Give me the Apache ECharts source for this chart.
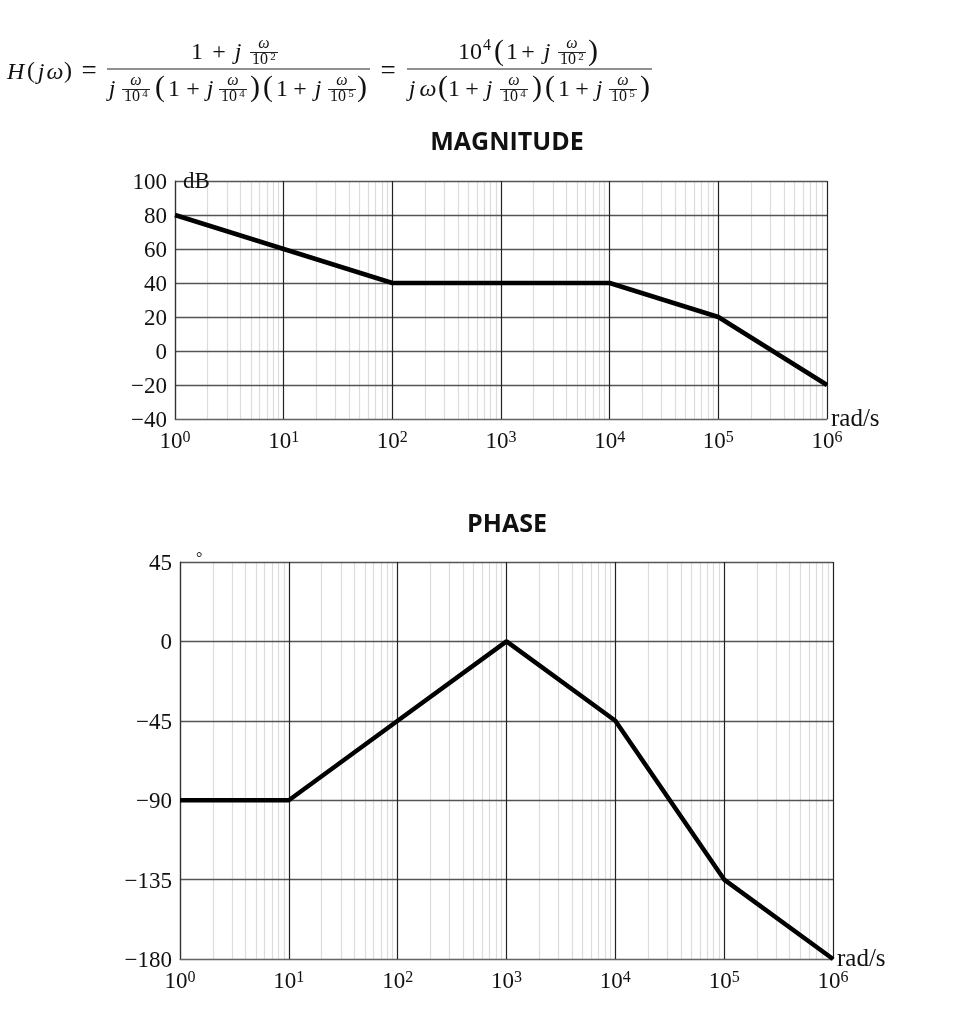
<!DOCTYPE html>
<html>
<head>
    <meta charset="utf-8">
    <script src="https://cdn.jsdelivr.net/npm/echarts@6/dist/echarts.min.js"></script>
    <style>body { margin: 0; background: #fff; }</style>
</head>
<body>
    <div id="main" style="width: 957px;height:1024px;"></div>
    <script type="text/javascript">

// values
var omega = [1, 10, 100, 1000, 10000, 100000, 1000000];
var magnitude = [80, 60, 40, 40, 40, 20, -20];
var phase = [-90, -90, -45, 0, -45, -135, -180];
var decades = [1, 10, 100, 1000, 10000, 100000];
var minorSteps = [2, 3, 4, 5, 6, 7, 8, 9];
var titles = ['MAGNITUDE', 'PHASE'];

var SERIF = '"Liberation Serif", serif';

function pairs(ys) {
    return omega.map(function (w, i) { return [w, ys[i]]; });
}

var minorLines = [];
decades.forEach(function (d) {
    minorSteps.forEach(function (m) {
        minorLines.push({ xAxis: d * m });
    });
});

function xAxisFor(gridIndex) {
    return {
        type: 'log',
        gridIndex: gridIndex,
        logBase: 10,
        min: 1,
        max: 1000000,
        z: 3,
        name: 'rad/s',
        nameLocation: 'end',
        nameGap: 4,
        nameMoveOverlap: false,
        nameTextStyle: { fontFamily: SERIF, fontSize: 25, color: '#111' },
        axisLine: { show: true, onZero: false, lineStyle: { color: '#666', width: 1.2 } },
        axisTick: { show: false },
        minorTick: { show: false },
        splitLine: { show: true, lineStyle: { color: '#222', width: 1.2 } },
        axisLabel: {
            show: true,
            margin: 11,
            showMinLabel: true,
            showMaxLabel: true,
            hideOverlap: false,
            formatter: function (v) {
                return '10{sup|' + Math.round(Math.log(v) / Math.LN10) + '}';
            },
            fontFamily: SERIF,
            fontSize: 23,
            color: '#111',
            rich: {
                sup: { fontFamily: SERIF, fontSize: 16, color: '#111', verticalAlign: 'top', lineHeight: 24 }
            }
        }
    };
}

function yAxisFor(gridIndex, min, max, interval, name, pad) {
    return {
        type: 'value',
        gridIndex: gridIndex,
        min: min,
        max: max,
        interval: interval,
        z: 3,
        name: name,
        nameLocation: 'end',
        nameGap: pad.gap,
        nameTextStyle: {
            fontFamily: SERIF, fontSize: pad.size, color: '#111',
            align: 'left', verticalAlign: 'middle', padding: [0, 0, 0, pad.left]
        },
        axisLine: { show: true, onZero: false, lineStyle: { color: '#333', width: 1.2 } },
        axisTick: { show: false },
        splitLine: { show: true, lineStyle: { color: '#555', width: 1.4 } },
        axisLabel: {
            margin: 8,
            color: '#111',
            formatter: function (v) { return '{n|' + String(v).replace('-', '\u2212') + '}'; },
            rich: {
                n: { fontFamily: SERIF, fontSize: 23, color: '#111', padding: [4, 0, 0, 0] }
            }
        }
    };
}

function curve(name, gridIndex, ys) {
    return [{
        name: name + ' minor',
        type: 'line',
        xAxisIndex: gridIndex,
        yAxisIndex: gridIndex,
        data: [],
        silent: true,
        z: 1,
        markLine: {
            silent: true,
            z: 1,
            symbol: 'none',
            animation: false,
            label: { show: false },
            lineStyle: { color: '#dcdcdc', width: 1.2, type: 'solid' },
            data: minorLines
        }
    }, {
        name: name,
        type: 'line',
        xAxisIndex: gridIndex,
        yAxisIndex: gridIndex,
        symbol: 'none',
        smooth: false,
        animation: false,
        z: 6,
        lineStyle: { color: '#000', width: 4.5 },
        data: pairs(ys)
    }];
}

// formula pieces, placed like the typeset original
var formula = [];
function txt(s, x, y, size, italic, align) {
    formula.push({
        type: 'text',
        x: x,
        y: y,
        style: {
            text: s,
            fontFamily: SERIF,
            fontSize: size,
            fontStyle: italic ? 'italic' : 'normal',
            fill: '#111',
            align: align || 'center',
            verticalAlign: 'middle'
        }
    });
}
function bar(x1, x2, y) {
    formula.push({
        type: 'line',
        shape: { x1: x1, y1: y, x2: x2, y2: y },
        style: { stroke: '#222', lineWidth: 1 }
    });
}
// small omega over power of ten
function frac(x, y, pow) {
    txt('\u03c9', x, y - 8, 16, true);
    bar(x - 14, x + 14, y + 0.5);
    txt('10', x - 4, y + 8, 16);
    txt(pow, x + 9, y + 5, 11);
}
function paren(s, x, y) {
    txt(s, x, y, 30);
}

txt('H', 7, 73, 24, true, 'left');
txt('(', 31, 72, 24);
txt('j', 41, 73, 24, true);
txt('\u03c9', 55, 73, 24, true);
txt(')', 68, 72, 24);
txt('=', 89, 72, 27);
bar(107, 370, 69);
txt('1', 197, 53, 24);
txt('+', 219, 53, 24);
txt('j', 238, 53, 24, true);
frac(264, 52, '2');

txt('j', 112, 90, 24, true);
frac(136, 89, '4');
paren('(', 160, 88);
txt('1', 174, 90, 24);
txt('+', 193, 90, 24);
txt('j', 210, 90, 24, true);
frac(233, 89, '4');
paren(')', 255, 88);
paren('(', 268, 88);
txt('1', 282, 90, 24);
txt('+', 300, 90, 24);
txt('j', 318, 90, 24, true);
frac(342, 89, '5');
paren(')', 362, 88);

txt('=', 388, 72, 27);
bar(407, 652, 69);
txt('10', 470, 53, 24);
txt('4', 487, 46, 16);
paren('(', 499, 52);
txt('1', 512, 53, 24);
txt('+', 528, 53, 24);
txt('j', 547, 53, 24, true);
frac(572, 52, '2');
paren(')', 593, 52);

txt('j', 412, 90, 24, true);
txt('\u03c9', 428, 90, 24, true);
paren('(', 443, 88);
txt('1', 454, 90, 24);
txt('+', 472, 90, 24);
txt('j', 489, 90, 24, true);
frac(514, 89, '4');
paren(')', 537, 88);
paren('(', 550, 88);
txt('1', 564, 90, 24);
txt('+', 582, 90, 24);
txt('j', 599, 90, 24, true);
frac(623, 89, '5');
paren(')', 645, 88);

var option = {
    backgroundColor: '#fff',
    animation: false,
    title: titles.map(function (t, i) {
        return {
            text: t,
            left: 507,
            top: i === 0 ? 130 : 512,
            padding: 0,
            textAlign: 'center',
            textStyle: { fontFamily: '"Open Sans", sans-serif', fontWeight: 'bold', fontSize: 25, color: '#111' }
        };
    }),
    grid: [
        { left: 175, top: 181, width: 652, height: 238 },
        { left: 180, top: 562, width: 653, height: 397 }
    ],
    xAxis: [xAxisFor(0), xAxisFor(1)],
    yAxis: [
        yAxisFor(0, -40, 100, 20, 'dB', { gap: -1, size: 23, left: 8 }),
        yAxisFor(1, -180, 45, 45, '\u00b0', { gap: 3, size: 16, left: 16 })
    ],
    series: curve('Magnitude', 0, magnitude).concat(curve('Phase', 1, phase)),
    graphic: { elements: formula }
};

var myChart = echarts.init(document.getElementById('main'));
myChart.setOption(option);

    </script>
</body>
</html>
